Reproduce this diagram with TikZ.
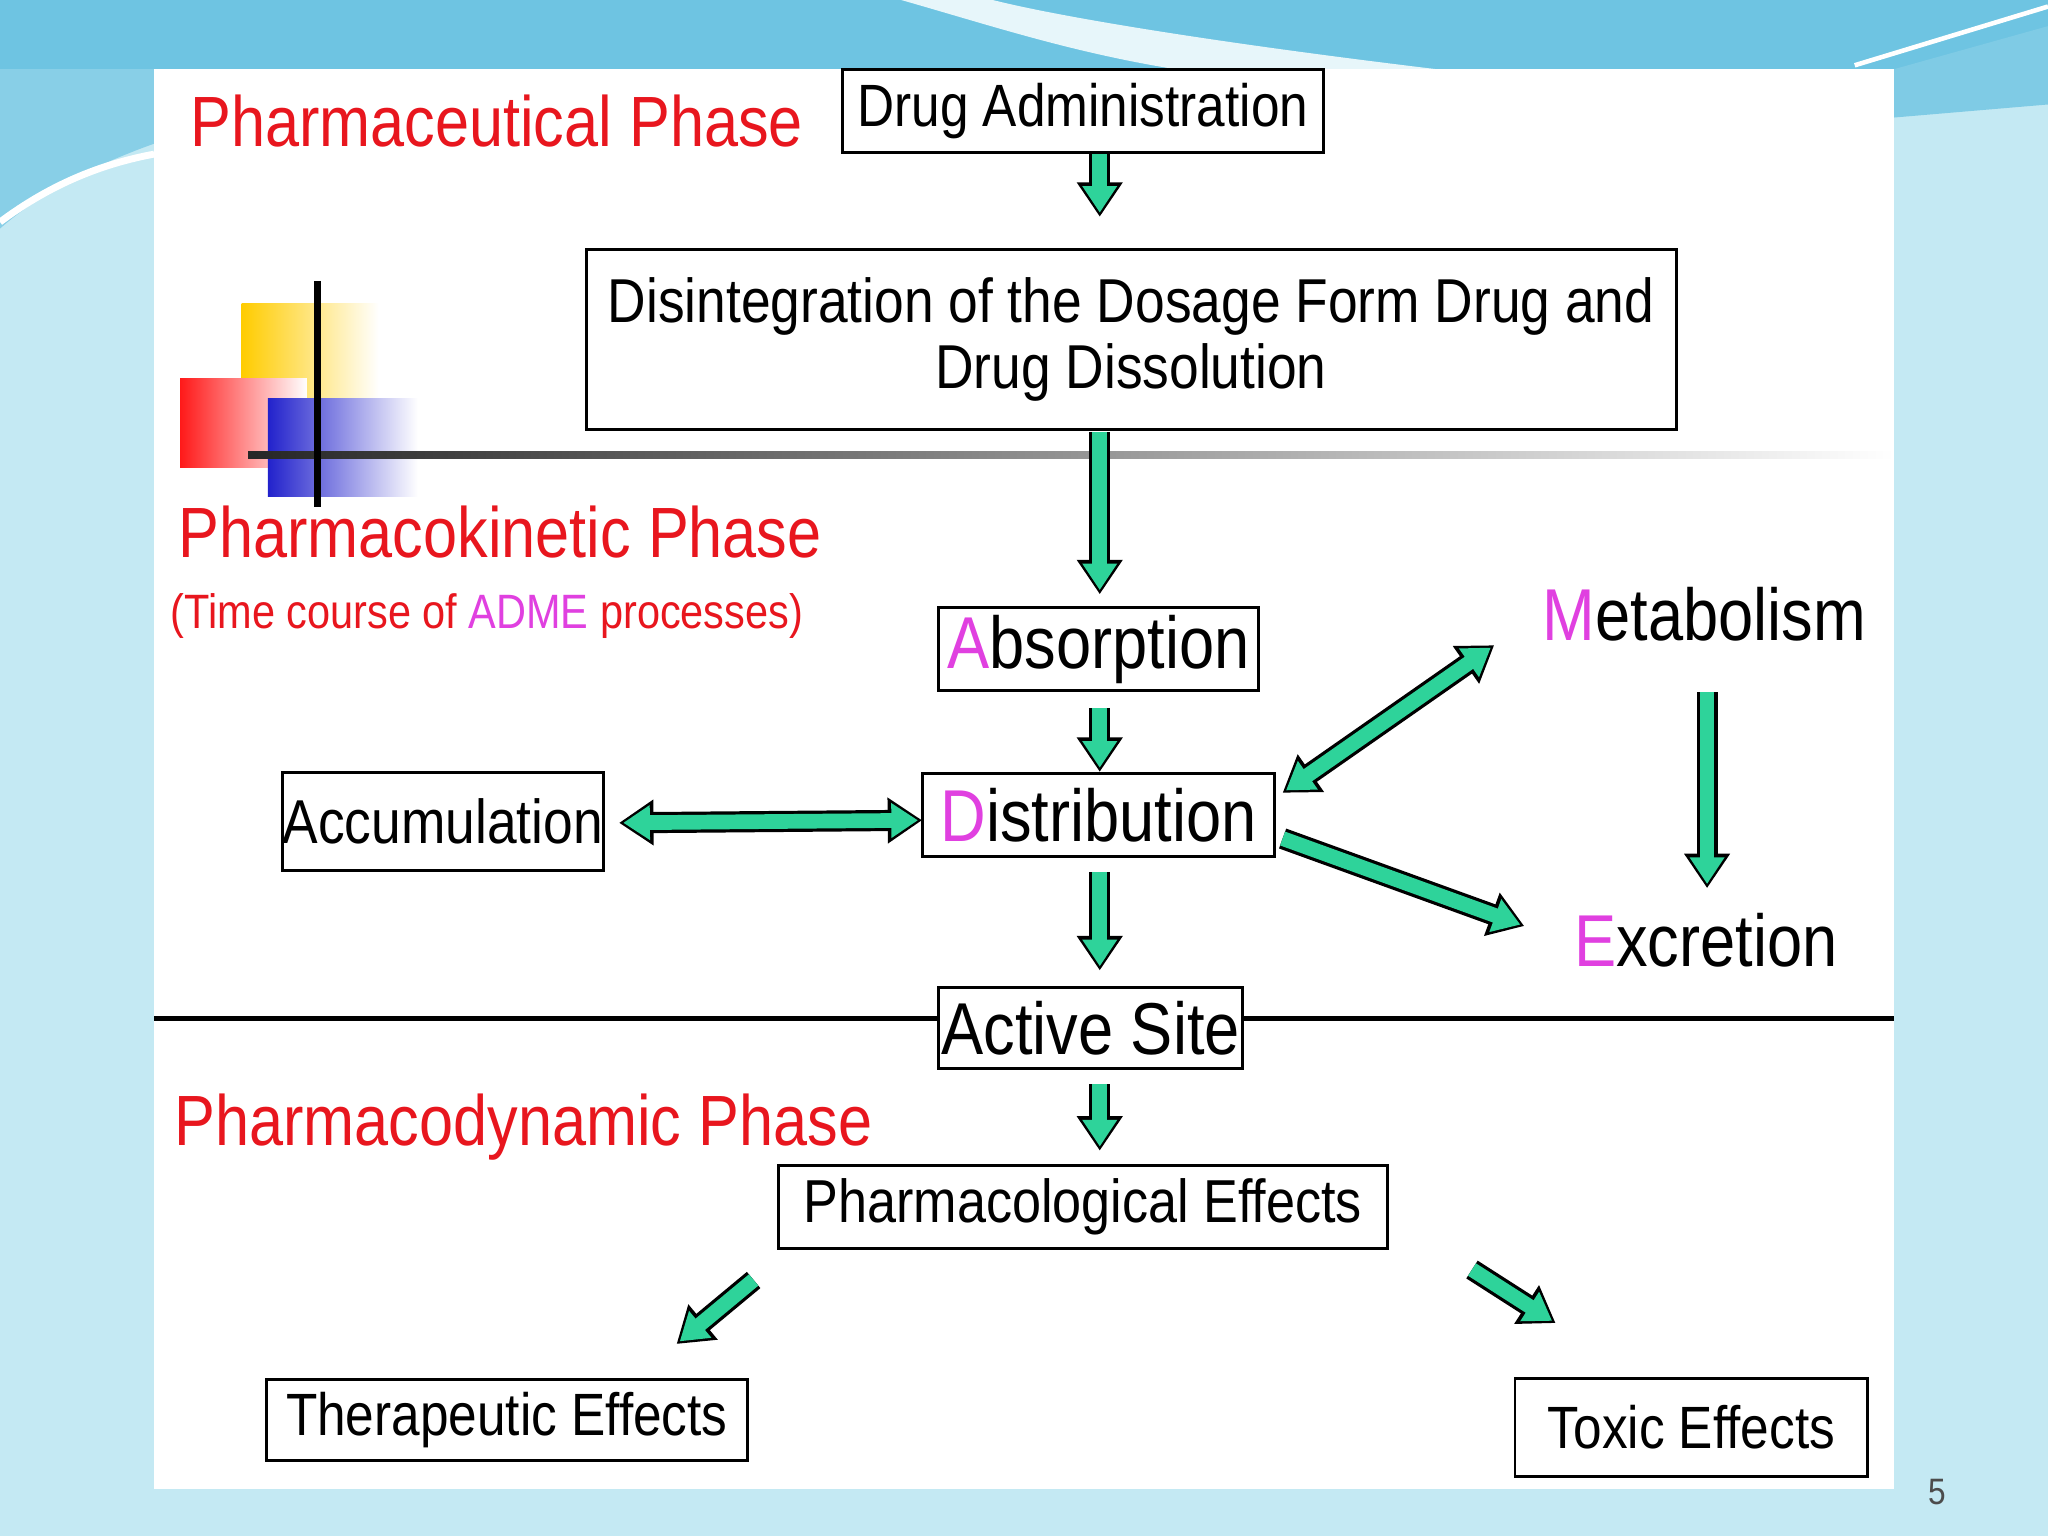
\documentclass[tikz,border=0pt]{standalone}
\usepackage{fontspec}
\setmainfont{Liberation Sans}[FakeStretch=0.86]
\usetikzlibrary{arrows.meta,calc}
\definecolor{bg}{HTML}{C4E9F3}
\definecolor{band}{HTML}{6EC4E2}
\definecolor{phred}{HTML}{E8161E}
\definecolor{mag}{HTML}{E040E0}
\definecolor{agreen}{HTML}{2ED39A}
\definecolor{sqyel}{HTML}{FFCC00}
\definecolor{sqblue}{HTML}{2222CC}
\tikzset{
 x=0.01cm,y=-0.01cm,
 box/.style={draw=black,line width=0.65pt,fill=white,inner sep=0pt,align=center},
 phase/.style={text=phred,anchor=west,inner sep=0pt,font=\fontsize{15.5}{18}\selectfont},
 fat/.style={draw=black,line width=4.6pt,-{Triangle[length=7.5pt,width=9.5pt]},
   postaction={draw=agreen,line width=3.2pt,-{Triangle[length=5.8pt,width=7.2pt]},shorten >=0.9pt}},
 fatd/.style={draw=black,line width=4.6pt,{Triangle[length=7.5pt,width=9.5pt]}-{Triangle[length=7.5pt,width=9.5pt]},
   postaction={draw=agreen,line width=3.2pt,{Triangle[length=5.8pt,width=7.2pt]}-{Triangle[length=5.8pt,width=7.2pt]},shorten >=0.9pt,shorten <=0.9pt}},
}
\begin{document}
\begin{tikzpicture}
\useasboundingbox (0,0) rectangle (1568,1176);
\fill[bg] (0,0) rectangle (1568,1176);
% top decoration
\fill[band] (0,0) rectangle (1568,53);
\fill[band!70!bg] (0,53) -- (0,175) .. controls (40,140) and (90,120) .. (118,110) -- (118,53) -- cycle;
\draw[white,line width=1.5pt] (0,170) .. controls (40,140) and (80,125) .. (118,118);
\fill[white!60!bg] (690,0) .. controls (760,20) and (820,40) .. (900,53) -- (1100,53) .. controls (950,35) and (820,15) .. (760,0) -- cycle;
\fill[band!80!bg] (1450,53) -- (1568,20) -- (1568,80) -- (1450,90) -- cycle;
\draw[white,line width=1pt] (1420,50) -- (1568,5);
% panel
\fill[white] (118,53) rectangle (1450,1140);
% decorative squares
\shade[left color=sqyel,right color=white] (185,232) rectangle (290,330);
\shade[left color=red!90,right color=white] (138,290) rectangle (235,358);
\shade[left color=sqblue,right color=white] (205,305) rectangle (320,380);
\shade[left color=black!85,right color=white] (190,346) rectangle (1450,351);
\draw[black,line width=1.6pt] (243,215) -- (243,388);
\draw[black,line width=1pt] (118,780) -- (1450,780);
% phase labels
\node[phase] (p1) at (145,93) {Pharmaceutical Phase};
\node[phase] (p2) at (136,407) {Pharmacokinetic Phase};
\node[phase,font=\fontsize{10.5}{13}\selectfont] (p3) at (130,472) {(Time course of \textcolor{mag}{ADME} processes)};
\node[phase] (p4) at (133,863) {Pharmacodynamic Phase};
% boxes
\node[box,minimum width=3.68cm,minimum height=0.63cm,font=\fontsize{13}{15}\selectfont] (da) at (829,85) {Drug Administration};
\node[box,minimum width=8.34cm,minimum height=1.38cm,font=\fontsize{13.5}{14.5}\selectfont] (dis) at (866,260) {Disintegration of the Dosage Form Drug and\\Drug Dissolution};
\node[box,minimum width=2.45cm,minimum height=0.63cm,font=\fontsize{16}{18}\selectfont] (abs) at (841,497) {\textcolor{mag}{A}bsorption};
\node[box,minimum width=2.69cm,minimum height=0.63cm,font=\fontsize{16}{18}\selectfont] (dist) at (841,624) {\textcolor{mag}{D}istribution};
\node[box,minimum width=2.46cm,minimum height=0.75cm,font=\fontsize{13.5}{16}\selectfont] (acc) at (339,629) {Accumulation};
\node[box,minimum width=2.33cm,minimum height=0.62cm,font=\fontsize{16}{18}\selectfont] (act) at (835,787) {Active Site};
\node[box,minimum width=4.66cm,minimum height=0.63cm,font=\fontsize{13.2}{15}\selectfont] (pe) at (829,924) {Pharmacological Effects};
\node[box,minimum width=3.68cm,minimum height=0.62cm,font=\fontsize{13}{15}\selectfont] (te) at (388,1087) {Therapeutic Effects};
\node[box,minimum width=2.70cm,minimum height=0.75cm,font=\fontsize{13}{15}\selectfont] (tox) at (1295,1093) {Toxic Effects};
\node[inner sep=0pt,font=\fontsize{16}{18}\selectfont] (met) at (1305,470) {\textcolor{mag}{M}etabolism};
\node[inner sep=0pt,font=\fontsize{16}{18}\selectfont] (exc) at (1306,720) {\textcolor{mag}{E}xcretion};
\node[inner sep=0pt,font=\fontsize{8}{9}\selectfont,text=black!70] (pg) at (1483,1142) {5};
% connector ends
\coordinate (a1) at (842,118); \coordinate (b1) at (842,166);
\coordinate (a2) at (842,331); \coordinate (b2) at (842,455);
\coordinate (a3) at (842,542); \coordinate (b3) at (842,591);
\coordinate (a4) at (842,668); \coordinate (b4) at (842,743);
\coordinate (a5) at (842,830); \coordinate (b5) at (842,881);
\coordinate (a6) at (577,980); \coordinate (b6) at (518,1029);
\coordinate (a7) at (1127,972); \coordinate (b7) at (1191,1013);
\coordinate (a8) at (474,630); \coordinate (b8) at (706,628);
\coordinate (a9) at (982,607); \coordinate (b9) at (1144,494);
\coordinate (a10) at (982,642); \coordinate (b10) at (1167,709);
\coordinate (a11) at (1307,530); \coordinate (b11) at (1307,680);
\draw[fat] (a1) -- (b1);
\draw[fat] (a2) -- (b2);
\draw[fat] (a3) -- (b3);
\draw[fat] (a4) -- (b4);
\draw[fat] (a5) -- (b5);
\draw[fat] (a6) -- (b6);
\draw[fat] (a7) -- (b7);
\draw[fatd] (a8) -- (b8);
\draw[fatd] (a9) -- (b9);
\draw[fat] (a10) -- (b10);
\draw[fat] (a11) -- (b11);
\end{tikzpicture}
\end{document}
